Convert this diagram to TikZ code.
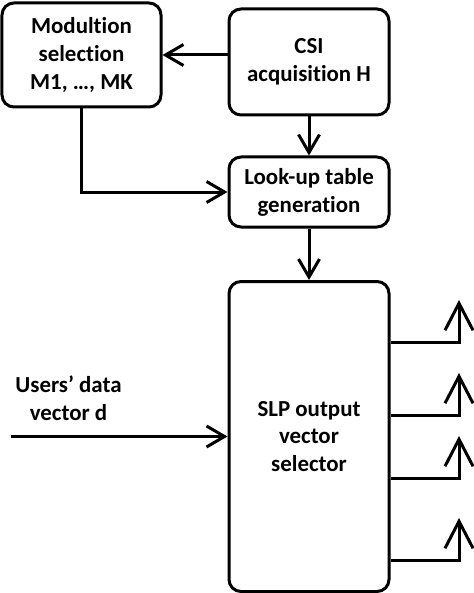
\documentclass[tikz,border=0pt]{standalone}
\usepackage{fontspec}
\setmainfont[Ligatures=NoCommon]{Carlito}
\usetikzlibrary{arrows.meta}
\begin{document}
\begin{tikzpicture}[x=1bp,y=-1bp,
  box/.style={draw,line width=3bp,rounded corners=12bp,align=center,
    font=\fontsize{23}{28}\selectfont\bfseries,inner sep=0pt},
  lbl/.style={align=center,font=\fontsize{23}{28}\selectfont\bfseries,inner sep=0pt},
  conn/.style={line width=3bp,-{Straight Barb[length=18bp,width=21bp,line width=3bp]}},
  outconn/.style={line width=3bp,-{Straight Barb[length=27bp,width=28bp,line width=3bp]}}]
\useasboundingbox (0,0) rectangle (474,593);
\node[box,minimum width=159bp,minimum height=104bp] (mod) at (81.5,55) {Modultion\\selection\\M1, \dots, MK};
\node[box,minimum width=160bp,minimum height=106bp] (csi) at (309,62) {CSI\\acquisition H};
\node[box,minimum width=160bp,minimum height=70bp] (lut) at (309,192) {Look-up table\\generation};
\node[box,minimum width=160bp,minimum height=310bp] (slp) at (309,436.5) {SLP output\\vector\\selector};
\node[lbl] (users) at (68.5,398) {Users’ data\\vector d};
\draw[conn] (mod.east -| csi.west) -- (mod.east);
\draw[conn] (csi.south) -- (lut.north);
\draw[conn] (mod.south) |- (lut.west);
\draw[conn] (lut.south) -- (slp.north);
\coordinate (in) at (11,436.5);
\draw[conn] (in) -- (slp.west);
\foreach \i/\b/\t in {1/342/300,2/415/373,3/478/436,4/560/518}{
  \coordinate (b\i) at (459,\b);
  \coordinate (t\i) at (459,\t);
  \draw[outconn] (slp.east |- b\i) -- (b\i) -- (t\i);
}
\end{tikzpicture}
\end{document}
